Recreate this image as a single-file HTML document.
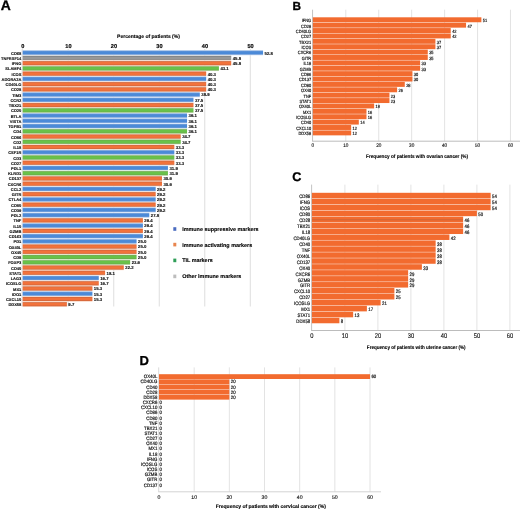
<!DOCTYPE html>
<html lang="en"><head><meta charset="utf-8"><title>Figure</title>
<style>html,body{margin:0;padding:0;background:#fff;}svg{display:block;}text{font-family:"Liberation Sans",sans-serif;}</style></head><body>
<svg width="520" height="510" viewBox="0 0 520 510" text-rendering="geometricPrecision">
<rect width="520" height="510" fill="#fff"/>
<defs>
<linearGradient id="gb" x1="0" y1="0" x2="0" y2="1"><stop offset="0" stop-color="#6f9bd6"/><stop offset="0.3" stop-color="#4c8ad8"/><stop offset="0.7" stop-color="#4c8ad8"/><stop offset="1" stop-color="#6f9bd6"/></linearGradient>
<linearGradient id="go" x1="0" y1="0" x2="0" y2="1"><stop offset="0" stop-color="#c8623a"/><stop offset="0.3" stop-color="#f2723a"/><stop offset="0.7" stop-color="#f2723a"/><stop offset="1" stop-color="#c8623a"/></linearGradient>
<linearGradient id="gg" x1="0" y1="0" x2="0" y2="1"><stop offset="0" stop-color="#6ea24c"/><stop offset="0.3" stop-color="#68c24a"/><stop offset="0.7" stop-color="#68c24a"/><stop offset="1" stop-color="#6ea24c"/></linearGradient>
<linearGradient id="gy" x1="0" y1="0" x2="0" y2="1"><stop offset="0" stop-color="#74787c"/><stop offset="0.3" stop-color="#989898"/><stop offset="0.7" stop-color="#989898"/><stop offset="1" stop-color="#8a8480"/></linearGradient>
<filter id="bl" x="-2%" y="-2%" width="104%" height="104%"><feGaussianBlur stdDeviation="0.45"/></filter>
</defs>
<g id="chartA">
<text x="0.80" y="9.83" font-size="13.9" font-weight="bold" text-anchor="start" fill="#000" stroke="#000" stroke-width="0.3">A</text>
<text x="148.50" y="37.79" font-size="5.0" font-weight="bold" text-anchor="middle" fill="#000" stroke="#111" stroke-width="0.12">Percentage of patients (%)</text>
<text x="22.90" y="47.50" font-size="5.6" font-weight="bold" text-anchor="middle" fill="#000" stroke="#111" stroke-width="0.18">0</text>
<line x1="68.22" y1="49" x2="68.22" y2="306.5" stroke="#d6d6d6" stroke-width="0.8"/>
<text x="68.42" y="47.50" font-size="5.6" font-weight="bold" text-anchor="middle" fill="#000" stroke="#111" stroke-width="0.18">10</text>
<line x1="113.74" y1="49" x2="113.74" y2="306.5" stroke="#d6d6d6" stroke-width="0.8"/>
<text x="113.94" y="47.50" font-size="5.6" font-weight="bold" text-anchor="middle" fill="#000" stroke="#111" stroke-width="0.18">20</text>
<line x1="159.26" y1="49" x2="159.26" y2="306.5" stroke="#d6d6d6" stroke-width="0.8"/>
<text x="159.46" y="47.50" font-size="5.6" font-weight="bold" text-anchor="middle" fill="#000" stroke="#111" stroke-width="0.18">30</text>
<line x1="204.78" y1="49" x2="204.78" y2="306.5" stroke="#d6d6d6" stroke-width="0.8"/>
<text x="204.98" y="47.50" font-size="5.6" font-weight="bold" text-anchor="middle" fill="#000" stroke="#111" stroke-width="0.18">40</text>
<line x1="250.30" y1="49" x2="250.30" y2="306.5" stroke="#d6d6d6" stroke-width="0.8"/>
<text x="250.50" y="47.50" font-size="5.6" font-weight="bold" text-anchor="middle" fill="#000" stroke="#111" stroke-width="0.18">50</text>
<line x1="22.20" y1="49" x2="22.20" y2="306.5" stroke="#cfcfcf" stroke-width="0.8"/>
<g filter="url(#bl)">
<rect x="22.70" y="50.08" width="240.35" height="5.24" fill="#cfdff5"/>
<rect x="22.70" y="55.32" width="208.48" height="5.24" fill="#d6d6d6"/>
<rect x="22.70" y="60.56" width="208.48" height="5.24" fill="#f7cdb8"/>
<rect x="22.70" y="65.80" width="196.19" height="5.24" fill="#cde8bf"/>
<rect x="22.70" y="71.04" width="183.45" height="5.24" fill="#f7cdb8"/>
<rect x="22.70" y="76.28" width="183.45" height="5.24" fill="#cfdff5"/>
<rect x="22.70" y="81.52" width="183.45" height="5.24" fill="#f7cdb8"/>
<rect x="22.70" y="86.76" width="183.45" height="5.24" fill="#f7cdb8"/>
<rect x="22.70" y="92.00" width="177.07" height="5.24" fill="#cfdff5"/>
<rect x="22.70" y="97.24" width="170.70" height="5.24" fill="#cfdff5"/>
<rect x="22.70" y="102.48" width="170.70" height="5.24" fill="#f7cdb8"/>
<rect x="22.70" y="107.72" width="170.70" height="5.24" fill="#cde8bf"/>
<rect x="22.70" y="112.96" width="164.33" height="5.24" fill="#cfdff5"/>
<rect x="22.70" y="118.20" width="164.33" height="5.24" fill="#cfdff5"/>
<rect x="22.70" y="123.44" width="164.33" height="5.24" fill="#cfdff5"/>
<rect x="22.70" y="128.68" width="164.33" height="5.24" fill="#cde8bf"/>
<rect x="22.70" y="133.92" width="157.95" height="5.24" fill="#f7cdb8"/>
<rect x="22.70" y="139.16" width="157.95" height="5.24" fill="#cde8bf"/>
<rect x="22.70" y="144.40" width="151.58" height="5.24" fill="#f7cdb8"/>
<rect x="22.70" y="149.64" width="151.58" height="5.24" fill="#cfdff5"/>
<rect x="22.70" y="154.88" width="151.58" height="5.24" fill="#cde8bf"/>
<rect x="22.70" y="160.12" width="151.58" height="5.24" fill="#f7cdb8"/>
<rect x="22.70" y="165.36" width="145.21" height="5.24" fill="#cfdff5"/>
<rect x="22.70" y="170.60" width="145.21" height="5.24" fill="#cde8bf"/>
<rect x="22.70" y="175.84" width="139.29" height="5.24" fill="#f7cdb8"/>
<rect x="22.70" y="181.08" width="139.29" height="5.24" fill="#f7cdb8"/>
<rect x="22.70" y="186.32" width="132.92" height="5.24" fill="#cfdff5"/>
<rect x="22.70" y="191.56" width="132.92" height="5.24" fill="#f7cdb8"/>
<rect x="22.70" y="196.80" width="132.92" height="5.24" fill="#cfdff5"/>
<rect x="22.70" y="202.04" width="132.92" height="5.24" fill="#f7cdb8"/>
<rect x="22.70" y="207.28" width="132.92" height="5.24" fill="#cfdff5"/>
<rect x="22.70" y="212.52" width="126.55" height="5.24" fill="#cfdff5"/>
<rect x="22.70" y="217.76" width="120.17" height="5.24" fill="#f7cdb8"/>
<rect x="22.70" y="223.00" width="120.17" height="5.24" fill="#cfdff5"/>
<rect x="22.70" y="228.24" width="120.17" height="5.24" fill="#f7cdb8"/>
<rect x="22.70" y="233.48" width="120.17" height="5.24" fill="#cfdff5"/>
<rect x="22.70" y="238.72" width="113.80" height="5.24" fill="#cfdff5"/>
<rect x="22.70" y="243.96" width="113.80" height="5.24" fill="#f7cdb8"/>
<rect x="22.70" y="249.20" width="113.80" height="5.24" fill="#f7cdb8"/>
<rect x="22.70" y="254.44" width="113.80" height="5.24" fill="#cde8bf"/>
<rect x="22.70" y="259.68" width="107.43" height="5.24" fill="#cde8bf"/>
<rect x="22.70" y="264.92" width="101.05" height="5.24" fill="#f7cdb8"/>
<rect x="22.70" y="270.16" width="82.39" height="5.24" fill="#f7cdb8"/>
<rect x="22.70" y="275.40" width="76.02" height="5.24" fill="#cfdff5"/>
<rect x="22.70" y="280.64" width="76.02" height="5.24" fill="#f7cdb8"/>
<rect x="22.70" y="285.88" width="69.65" height="5.24" fill="#f7cdb8"/>
<rect x="22.70" y="291.12" width="69.65" height="5.24" fill="#cfdff5"/>
<rect x="22.70" y="296.36" width="69.65" height="5.24" fill="#f7cdb8"/>
<rect x="22.70" y="301.60" width="44.15" height="5.24" fill="#f7cdb8"/>
<rect x="22.70" y="50.70" width="240.35" height="4.0" fill="url(#gb)"/>
<rect x="22.70" y="55.94" width="208.48" height="4.0" fill="url(#gy)"/>
<rect x="22.70" y="61.18" width="208.48" height="4.0" fill="url(#go)"/>
<rect x="22.70" y="66.42" width="196.19" height="4.0" fill="url(#gg)"/>
<rect x="22.70" y="71.66" width="183.45" height="4.0" fill="url(#go)"/>
<rect x="22.70" y="76.90" width="183.45" height="4.0" fill="url(#gb)"/>
<rect x="22.70" y="82.14" width="183.45" height="4.0" fill="url(#go)"/>
<rect x="22.70" y="87.38" width="183.45" height="4.0" fill="url(#go)"/>
<rect x="22.70" y="92.62" width="177.07" height="4.0" fill="url(#gb)"/>
<rect x="22.70" y="97.86" width="170.70" height="4.0" fill="url(#gb)"/>
<rect x="22.70" y="103.10" width="170.70" height="4.0" fill="url(#go)"/>
<rect x="22.70" y="108.34" width="170.70" height="4.0" fill="url(#gg)"/>
<rect x="22.70" y="113.58" width="164.33" height="4.0" fill="url(#gb)"/>
<rect x="22.70" y="118.82" width="164.33" height="4.0" fill="url(#gb)"/>
<rect x="22.70" y="124.06" width="164.33" height="4.0" fill="url(#gb)"/>
<rect x="22.70" y="129.30" width="164.33" height="4.0" fill="url(#gg)"/>
<rect x="22.70" y="134.54" width="157.95" height="4.0" fill="url(#go)"/>
<rect x="22.70" y="139.78" width="157.95" height="4.0" fill="url(#gg)"/>
<rect x="22.70" y="145.02" width="151.58" height="4.0" fill="url(#go)"/>
<rect x="22.70" y="150.26" width="151.58" height="4.0" fill="url(#gb)"/>
<rect x="22.70" y="155.50" width="151.58" height="4.0" fill="url(#gg)"/>
<rect x="22.70" y="160.74" width="151.58" height="4.0" fill="url(#go)"/>
<rect x="22.70" y="165.98" width="145.21" height="4.0" fill="url(#gb)"/>
<rect x="22.70" y="171.22" width="145.21" height="4.0" fill="url(#gg)"/>
<rect x="22.70" y="176.46" width="139.29" height="4.0" fill="url(#go)"/>
<rect x="22.70" y="181.70" width="139.29" height="4.0" fill="url(#go)"/>
<rect x="22.70" y="186.94" width="132.92" height="4.0" fill="url(#gb)"/>
<rect x="22.70" y="192.18" width="132.92" height="4.0" fill="url(#go)"/>
<rect x="22.70" y="197.42" width="132.92" height="4.0" fill="url(#gb)"/>
<rect x="22.70" y="202.66" width="132.92" height="4.0" fill="url(#go)"/>
<rect x="22.70" y="207.90" width="132.92" height="4.0" fill="url(#gb)"/>
<rect x="22.70" y="213.14" width="126.55" height="4.0" fill="url(#gb)"/>
<rect x="22.70" y="218.38" width="120.17" height="4.0" fill="url(#go)"/>
<rect x="22.70" y="223.62" width="120.17" height="4.0" fill="url(#gb)"/>
<rect x="22.70" y="228.86" width="120.17" height="4.0" fill="url(#go)"/>
<rect x="22.70" y="234.10" width="120.17" height="4.0" fill="url(#gb)"/>
<rect x="22.70" y="239.34" width="113.80" height="4.0" fill="url(#gb)"/>
<rect x="22.70" y="244.58" width="113.80" height="4.0" fill="url(#go)"/>
<rect x="22.70" y="249.82" width="113.80" height="4.0" fill="url(#go)"/>
<rect x="22.70" y="255.06" width="113.80" height="4.0" fill="url(#gg)"/>
<rect x="22.70" y="260.30" width="107.43" height="4.0" fill="url(#gg)"/>
<rect x="22.70" y="265.54" width="101.05" height="4.0" fill="url(#go)"/>
<rect x="22.70" y="270.78" width="82.39" height="4.0" fill="url(#go)"/>
<rect x="22.70" y="276.02" width="76.02" height="4.0" fill="url(#gb)"/>
<rect x="22.70" y="281.26" width="76.02" height="4.0" fill="url(#go)"/>
<rect x="22.70" y="286.50" width="69.65" height="4.0" fill="url(#go)"/>
<rect x="22.70" y="291.74" width="69.65" height="4.0" fill="url(#gb)"/>
<rect x="22.70" y="296.98" width="69.65" height="4.0" fill="url(#go)"/>
<rect x="22.70" y="302.22" width="44.15" height="4.0" fill="url(#go)"/>
</g>
<text x="21.30" y="54.73" font-size="4.0" font-weight="bold" text-anchor="end" fill="#111" stroke="#111" stroke-width="0.12">CD68</text>
<text x="264.55" y="54.54" font-size="4.3" font-weight="bold" text-anchor="start" fill="#111" stroke="#111" stroke-width="0.12">52.8</text>
<text x="21.30" y="59.97" font-size="4.0" font-weight="bold" text-anchor="end" fill="#111" stroke="#111" stroke-width="0.12">TNFRSF14</text>
<text x="232.68" y="59.78" font-size="4.3" font-weight="bold" text-anchor="start" fill="#111" stroke="#111" stroke-width="0.12">45.8</text>
<text x="21.30" y="65.21" font-size="4.0" font-weight="bold" text-anchor="end" fill="#111" stroke="#111" stroke-width="0.12">IFNG</text>
<text x="232.68" y="65.02" font-size="4.3" font-weight="bold" text-anchor="start" fill="#111" stroke="#111" stroke-width="0.12">45.8</text>
<text x="21.30" y="70.45" font-size="4.0" font-weight="bold" text-anchor="end" fill="#111" stroke="#111" stroke-width="0.12">SLAMF4</text>
<text x="220.39" y="70.26" font-size="4.3" font-weight="bold" text-anchor="start" fill="#111" stroke="#111" stroke-width="0.12">43.1</text>
<text x="21.30" y="75.69" font-size="4.0" font-weight="bold" text-anchor="end" fill="#111" stroke="#111" stroke-width="0.12">ICOS</text>
<text x="207.65" y="75.50" font-size="4.3" font-weight="bold" text-anchor="start" fill="#111" stroke="#111" stroke-width="0.12">40.3</text>
<text x="21.30" y="80.93" font-size="4.0" font-weight="bold" text-anchor="end" fill="#111" stroke="#111" stroke-width="0.12">ADORA2A</text>
<text x="207.65" y="80.74" font-size="4.3" font-weight="bold" text-anchor="start" fill="#111" stroke="#111" stroke-width="0.12">40.3</text>
<text x="21.30" y="86.17" font-size="4.0" font-weight="bold" text-anchor="end" fill="#111" stroke="#111" stroke-width="0.12">CD40LG</text>
<text x="207.65" y="85.98" font-size="4.3" font-weight="bold" text-anchor="start" fill="#111" stroke="#111" stroke-width="0.12">40.3</text>
<text x="21.30" y="91.41" font-size="4.0" font-weight="bold" text-anchor="end" fill="#111" stroke="#111" stroke-width="0.12">CD28</text>
<text x="207.65" y="91.22" font-size="4.3" font-weight="bold" text-anchor="start" fill="#111" stroke="#111" stroke-width="0.12">40.3</text>
<text x="21.30" y="96.65" font-size="4.0" font-weight="bold" text-anchor="end" fill="#111" stroke="#111" stroke-width="0.12">TIM3</text>
<text x="201.27" y="96.46" font-size="4.3" font-weight="bold" text-anchor="start" fill="#111" stroke="#111" stroke-width="0.12">38.9</text>
<text x="21.30" y="101.89" font-size="4.0" font-weight="bold" text-anchor="end" fill="#111" stroke="#111" stroke-width="0.12">CCR2</text>
<text x="194.90" y="101.70" font-size="4.3" font-weight="bold" text-anchor="start" fill="#111" stroke="#111" stroke-width="0.12">37.5</text>
<text x="21.30" y="107.13" font-size="4.0" font-weight="bold" text-anchor="end" fill="#111" stroke="#111" stroke-width="0.12">TBX21</text>
<text x="194.90" y="106.94" font-size="4.3" font-weight="bold" text-anchor="start" fill="#111" stroke="#111" stroke-width="0.12">37.5</text>
<text x="21.30" y="112.37" font-size="4.0" font-weight="bold" text-anchor="end" fill="#111" stroke="#111" stroke-width="0.12">CD20</text>
<text x="194.90" y="112.18" font-size="4.3" font-weight="bold" text-anchor="start" fill="#111" stroke="#111" stroke-width="0.12">37.5</text>
<text x="21.30" y="117.61" font-size="4.0" font-weight="bold" text-anchor="end" fill="#111" stroke="#111" stroke-width="0.12">BTLA</text>
<text x="188.53" y="117.42" font-size="4.3" font-weight="bold" text-anchor="start" fill="#111" stroke="#111" stroke-width="0.12">36.1</text>
<text x="21.30" y="122.85" font-size="4.0" font-weight="bold" text-anchor="end" fill="#111" stroke="#111" stroke-width="0.12">VISTA</text>
<text x="188.53" y="122.66" font-size="4.3" font-weight="bold" text-anchor="start" fill="#111" stroke="#111" stroke-width="0.12">36.1</text>
<text x="21.30" y="128.09" font-size="4.0" font-weight="bold" text-anchor="end" fill="#111" stroke="#111" stroke-width="0.12">TGFB1</text>
<text x="188.53" y="127.90" font-size="4.3" font-weight="bold" text-anchor="start" fill="#111" stroke="#111" stroke-width="0.12">36.1</text>
<text x="21.30" y="133.33" font-size="4.0" font-weight="bold" text-anchor="end" fill="#111" stroke="#111" stroke-width="0.12">CD4</text>
<text x="188.53" y="133.14" font-size="4.3" font-weight="bold" text-anchor="start" fill="#111" stroke="#111" stroke-width="0.12">36.1</text>
<text x="21.30" y="138.57" font-size="4.0" font-weight="bold" text-anchor="end" fill="#111" stroke="#111" stroke-width="0.12">CD86</text>
<text x="182.15" y="138.38" font-size="4.3" font-weight="bold" text-anchor="start" fill="#111" stroke="#111" stroke-width="0.12">34.7</text>
<text x="21.30" y="143.81" font-size="4.0" font-weight="bold" text-anchor="end" fill="#111" stroke="#111" stroke-width="0.12">CD2</text>
<text x="182.15" y="143.62" font-size="4.3" font-weight="bold" text-anchor="start" fill="#111" stroke="#111" stroke-width="0.12">34.7</text>
<text x="21.30" y="149.05" font-size="4.0" font-weight="bold" text-anchor="end" fill="#111" stroke="#111" stroke-width="0.12">IL18</text>
<text x="175.78" y="148.86" font-size="4.3" font-weight="bold" text-anchor="start" fill="#111" stroke="#111" stroke-width="0.12">33.3</text>
<text x="21.30" y="154.29" font-size="4.0" font-weight="bold" text-anchor="end" fill="#111" stroke="#111" stroke-width="0.12">CSF1R</text>
<text x="175.78" y="154.10" font-size="4.3" font-weight="bold" text-anchor="start" fill="#111" stroke="#111" stroke-width="0.12">33.3</text>
<text x="21.30" y="159.53" font-size="4.0" font-weight="bold" text-anchor="end" fill="#111" stroke="#111" stroke-width="0.12">CD3</text>
<text x="175.78" y="159.34" font-size="4.3" font-weight="bold" text-anchor="start" fill="#111" stroke="#111" stroke-width="0.12">33.3</text>
<text x="21.30" y="164.77" font-size="4.0" font-weight="bold" text-anchor="end" fill="#111" stroke="#111" stroke-width="0.12">CD27</text>
<text x="175.78" y="164.58" font-size="4.3" font-weight="bold" text-anchor="start" fill="#111" stroke="#111" stroke-width="0.12">33.3</text>
<text x="21.30" y="170.01" font-size="4.0" font-weight="bold" text-anchor="end" fill="#111" stroke="#111" stroke-width="0.12">PDL1</text>
<text x="169.41" y="169.82" font-size="4.3" font-weight="bold" text-anchor="start" fill="#111" stroke="#111" stroke-width="0.12">31.9</text>
<text x="21.30" y="175.25" font-size="4.0" font-weight="bold" text-anchor="end" fill="#111" stroke="#111" stroke-width="0.12">KLRD1</text>
<text x="169.41" y="175.06" font-size="4.3" font-weight="bold" text-anchor="start" fill="#111" stroke="#111" stroke-width="0.12">31.9</text>
<text x="21.30" y="180.49" font-size="4.0" font-weight="bold" text-anchor="end" fill="#111" stroke="#111" stroke-width="0.12">CD137</text>
<text x="163.49" y="180.30" font-size="4.3" font-weight="bold" text-anchor="start" fill="#111" stroke="#111" stroke-width="0.12">30.6</text>
<text x="21.30" y="185.73" font-size="4.0" font-weight="bold" text-anchor="end" fill="#111" stroke="#111" stroke-width="0.12">CXCR6</text>
<text x="163.49" y="185.54" font-size="4.3" font-weight="bold" text-anchor="start" fill="#111" stroke="#111" stroke-width="0.12">30.6</text>
<text x="21.30" y="190.97" font-size="4.0" font-weight="bold" text-anchor="end" fill="#111" stroke="#111" stroke-width="0.12">CCL2</text>
<text x="157.12" y="190.78" font-size="4.3" font-weight="bold" text-anchor="start" fill="#111" stroke="#111" stroke-width="0.12">29.2</text>
<text x="21.30" y="196.21" font-size="4.0" font-weight="bold" text-anchor="end" fill="#111" stroke="#111" stroke-width="0.12">GITR</text>
<text x="157.12" y="196.02" font-size="4.3" font-weight="bold" text-anchor="start" fill="#111" stroke="#111" stroke-width="0.12">29.2</text>
<text x="21.30" y="201.45" font-size="4.0" font-weight="bold" text-anchor="end" fill="#111" stroke="#111" stroke-width="0.12">CTLA4</text>
<text x="157.12" y="201.26" font-size="4.3" font-weight="bold" text-anchor="start" fill="#111" stroke="#111" stroke-width="0.12">29.2</text>
<text x="21.30" y="206.69" font-size="4.0" font-weight="bold" text-anchor="end" fill="#111" stroke="#111" stroke-width="0.12">CD80</text>
<text x="157.12" y="206.50" font-size="4.3" font-weight="bold" text-anchor="start" fill="#111" stroke="#111" stroke-width="0.12">29.2</text>
<text x="21.30" y="211.93" font-size="4.0" font-weight="bold" text-anchor="end" fill="#111" stroke="#111" stroke-width="0.12">CD39</text>
<text x="157.12" y="211.74" font-size="4.3" font-weight="bold" text-anchor="start" fill="#111" stroke="#111" stroke-width="0.12">29.2</text>
<text x="21.30" y="217.17" font-size="4.0" font-weight="bold" text-anchor="end" fill="#111" stroke="#111" stroke-width="0.12">PDL2</text>
<text x="150.75" y="216.98" font-size="4.3" font-weight="bold" text-anchor="start" fill="#111" stroke="#111" stroke-width="0.12">27.8</text>
<text x="21.30" y="222.41" font-size="4.0" font-weight="bold" text-anchor="end" fill="#111" stroke="#111" stroke-width="0.12">TNF</text>
<text x="144.37" y="222.22" font-size="4.3" font-weight="bold" text-anchor="start" fill="#111" stroke="#111" stroke-width="0.12">26.4</text>
<text x="21.30" y="227.65" font-size="4.0" font-weight="bold" text-anchor="end" fill="#111" stroke="#111" stroke-width="0.12">IL10</text>
<text x="144.37" y="227.46" font-size="4.3" font-weight="bold" text-anchor="start" fill="#111" stroke="#111" stroke-width="0.12">26.4</text>
<text x="21.30" y="232.89" font-size="4.0" font-weight="bold" text-anchor="end" fill="#111" stroke="#111" stroke-width="0.12">GZMB</text>
<text x="144.37" y="232.70" font-size="4.3" font-weight="bold" text-anchor="start" fill="#111" stroke="#111" stroke-width="0.12">26.4</text>
<text x="21.30" y="238.13" font-size="4.0" font-weight="bold" text-anchor="end" fill="#111" stroke="#111" stroke-width="0.12">CD163</text>
<text x="144.37" y="237.94" font-size="4.3" font-weight="bold" text-anchor="start" fill="#111" stroke="#111" stroke-width="0.12">26.4</text>
<text x="21.30" y="243.37" font-size="4.0" font-weight="bold" text-anchor="end" fill="#111" stroke="#111" stroke-width="0.12">PD1</text>
<text x="138.00" y="243.18" font-size="4.3" font-weight="bold" text-anchor="start" fill="#111" stroke="#111" stroke-width="0.12">25.0</text>
<text x="21.30" y="248.61" font-size="4.0" font-weight="bold" text-anchor="end" fill="#111" stroke="#111" stroke-width="0.12">OX40L</text>
<text x="138.00" y="248.42" font-size="4.3" font-weight="bold" text-anchor="start" fill="#111" stroke="#111" stroke-width="0.12">25.0</text>
<text x="21.30" y="253.85" font-size="4.0" font-weight="bold" text-anchor="end" fill="#111" stroke="#111" stroke-width="0.12">OX40</text>
<text x="138.00" y="253.66" font-size="4.3" font-weight="bold" text-anchor="start" fill="#111" stroke="#111" stroke-width="0.12">25.0</text>
<text x="21.30" y="259.09" font-size="4.0" font-weight="bold" text-anchor="end" fill="#111" stroke="#111" stroke-width="0.12">CD8</text>
<text x="138.00" y="258.90" font-size="4.3" font-weight="bold" text-anchor="start" fill="#111" stroke="#111" stroke-width="0.12">25.0</text>
<text x="21.30" y="264.33" font-size="4.0" font-weight="bold" text-anchor="end" fill="#111" stroke="#111" stroke-width="0.12">FOXP3</text>
<text x="131.63" y="264.14" font-size="4.3" font-weight="bold" text-anchor="start" fill="#111" stroke="#111" stroke-width="0.12">23.6</text>
<text x="21.30" y="269.57" font-size="4.0" font-weight="bold" text-anchor="end" fill="#111" stroke="#111" stroke-width="0.12">CD40</text>
<text x="125.25" y="269.38" font-size="4.3" font-weight="bold" text-anchor="start" fill="#111" stroke="#111" stroke-width="0.12">22.2</text>
<text x="21.30" y="274.81" font-size="4.0" font-weight="bold" text-anchor="end" fill="#111" stroke="#111" stroke-width="0.12">STAT1</text>
<text x="106.59" y="274.62" font-size="4.3" font-weight="bold" text-anchor="start" fill="#111" stroke="#111" stroke-width="0.12">18.1</text>
<text x="21.30" y="280.05" font-size="4.0" font-weight="bold" text-anchor="end" fill="#111" stroke="#111" stroke-width="0.12">LAG3</text>
<text x="100.22" y="279.86" font-size="4.3" font-weight="bold" text-anchor="start" fill="#111" stroke="#111" stroke-width="0.12">16.7</text>
<text x="21.30" y="285.29" font-size="4.0" font-weight="bold" text-anchor="end" fill="#111" stroke="#111" stroke-width="0.12">ICOSLG</text>
<text x="100.22" y="285.10" font-size="4.3" font-weight="bold" text-anchor="start" fill="#111" stroke="#111" stroke-width="0.12">16.7</text>
<text x="21.30" y="290.53" font-size="4.0" font-weight="bold" text-anchor="end" fill="#111" stroke="#111" stroke-width="0.12">MX1</text>
<text x="93.85" y="290.34" font-size="4.3" font-weight="bold" text-anchor="start" fill="#111" stroke="#111" stroke-width="0.12">15.3</text>
<text x="21.30" y="295.77" font-size="4.0" font-weight="bold" text-anchor="end" fill="#111" stroke="#111" stroke-width="0.12">IDO1</text>
<text x="93.85" y="295.58" font-size="4.3" font-weight="bold" text-anchor="start" fill="#111" stroke="#111" stroke-width="0.12">15.3</text>
<text x="21.30" y="301.01" font-size="4.0" font-weight="bold" text-anchor="end" fill="#111" stroke="#111" stroke-width="0.12">CXCL10</text>
<text x="93.85" y="300.82" font-size="4.3" font-weight="bold" text-anchor="start" fill="#111" stroke="#111" stroke-width="0.12">15.3</text>
<text x="21.30" y="306.25" font-size="4.0" font-weight="bold" text-anchor="end" fill="#111" stroke="#111" stroke-width="0.12">DDX58</text>
<text x="68.35" y="306.06" font-size="4.3" font-weight="bold" text-anchor="start" fill="#111" stroke="#111" stroke-width="0.12">9.7</text>
<rect x="173.3" y="227.20" width="3" height="3.6" fill="#4a6cc0"/>
<text x="182.20" y="230.94" font-size="5.42" font-weight="bold" text-anchor="start" fill="#000" stroke="#111" stroke-width="0.12">Immune suppressive markers</text>
<rect x="173.3" y="242.80" width="3" height="3.6" fill="#e8854e"/>
<text x="182.20" y="246.54" font-size="5.42" font-weight="bold" text-anchor="start" fill="#000" stroke="#111" stroke-width="0.12">Immune activating markers</text>
<rect x="173.3" y="258.60" width="3" height="3.6" fill="#2f9e58"/>
<text x="182.20" y="262.34" font-size="5.42" font-weight="bold" text-anchor="start" fill="#000" stroke="#111" stroke-width="0.12">TIL markers</text>
<rect x="173.3" y="274.60" width="3" height="3.6" fill="#bdbdbd"/>
<text x="182.20" y="278.34" font-size="5.42" font-weight="bold" text-anchor="start" fill="#000" stroke="#111" stroke-width="0.12">Other immune markers</text>
</g>
<g id="chartB">
<text x="292.40" y="9.52" font-size="11.8" font-weight="bold" text-anchor="start" fill="#000" stroke="#000" stroke-width="0.3">B</text>
<text transform="translate(312.85,147.46) scale(0.9,1)" font-size="5.2" text-anchor="middle" fill="#111" stroke="#111" stroke-width="0.12">0</text>
<line x1="345.79" y1="9.7" x2="345.79" y2="141.2" stroke="#dcdcdc" stroke-width="0.8"/>
<text transform="translate(345.79,147.46) scale(0.9,1)" font-size="5.2" text-anchor="middle" fill="#111" stroke="#111" stroke-width="0.12">10</text>
<line x1="378.73" y1="9.7" x2="378.73" y2="141.2" stroke="#dcdcdc" stroke-width="0.8"/>
<text transform="translate(378.73,147.46) scale(0.9,1)" font-size="5.2" text-anchor="middle" fill="#111" stroke="#111" stroke-width="0.12">20</text>
<line x1="411.67" y1="9.7" x2="411.67" y2="141.2" stroke="#dcdcdc" stroke-width="0.8"/>
<text transform="translate(411.67,147.46) scale(0.9,1)" font-size="5.2" text-anchor="middle" fill="#111" stroke="#111" stroke-width="0.12">30</text>
<line x1="444.61" y1="9.7" x2="444.61" y2="141.2" stroke="#dcdcdc" stroke-width="0.8"/>
<text transform="translate(444.61,147.46) scale(0.9,1)" font-size="5.2" text-anchor="middle" fill="#111" stroke="#111" stroke-width="0.12">40</text>
<line x1="477.55" y1="9.7" x2="477.55" y2="141.2" stroke="#dcdcdc" stroke-width="0.8"/>
<text transform="translate(477.55,147.46) scale(0.9,1)" font-size="5.2" text-anchor="middle" fill="#111" stroke="#111" stroke-width="0.12">50</text>
<line x1="510.49" y1="9.7" x2="510.49" y2="141.2" stroke="#dcdcdc" stroke-width="0.8"/>
<text transform="translate(510.49,147.46) scale(0.9,1)" font-size="5.2" text-anchor="middle" fill="#111" stroke="#111" stroke-width="0.12">60</text>
<line x1="312.55" y1="9.7" x2="312.55" y2="141.2" stroke="#b4b4b4" stroke-width="0.8"/>
<line x1="312.15" y1="141.2" x2="520" y2="141.2" stroke="#b4b4b4" stroke-width="0.9"/>
<rect x="312.85" y="17.30" width="168.53" height="4.95" fill="#f26b2f"/>
<text transform="translate(311.15,22.16) scale(0.84,1)" font-size="4.7" text-anchor="end" fill="#111" stroke="#111" stroke-width="0.18">IFNG</text>
<text transform="translate(482.78,22.16) scale(0.84,1)" font-size="4.7" text-anchor="start" fill="#111" stroke="#111" stroke-width="0.18">51</text>
<rect x="312.85" y="22.69" width="153.21" height="4.95" fill="#f26b2f"/>
<text transform="translate(311.15,27.54) scale(0.84,1)" font-size="4.7" text-anchor="end" fill="#111" stroke="#111" stroke-width="0.18">CD28</text>
<text transform="translate(467.46,27.54) scale(0.84,1)" font-size="4.7" text-anchor="start" fill="#111" stroke="#111" stroke-width="0.18">47</text>
<rect x="312.85" y="28.07" width="137.89" height="4.95" fill="#f26b2f"/>
<text transform="translate(311.15,32.93) scale(0.84,1)" font-size="4.7" text-anchor="end" fill="#111" stroke="#111" stroke-width="0.18">CD40LG</text>
<text transform="translate(452.14,32.93) scale(0.84,1)" font-size="4.7" text-anchor="start" fill="#111" stroke="#111" stroke-width="0.18">42</text>
<rect x="312.85" y="33.46" width="137.89" height="4.95" fill="#f26b2f"/>
<text transform="translate(311.15,38.32) scale(0.84,1)" font-size="4.7" text-anchor="end" fill="#111" stroke="#111" stroke-width="0.18">CD27</text>
<text transform="translate(452.14,38.32) scale(0.84,1)" font-size="4.7" text-anchor="start" fill="#111" stroke="#111" stroke-width="0.18">42</text>
<rect x="312.85" y="38.84" width="122.57" height="4.95" fill="#f26b2f"/>
<text transform="translate(311.15,43.70) scale(0.84,1)" font-size="4.7" text-anchor="end" fill="#111" stroke="#111" stroke-width="0.18">TBX21</text>
<text transform="translate(436.82,43.70) scale(0.84,1)" font-size="4.7" text-anchor="start" fill="#111" stroke="#111" stroke-width="0.18">37</text>
<rect x="312.85" y="44.23" width="122.57" height="4.95" fill="#f26b2f"/>
<text transform="translate(311.15,49.09) scale(0.84,1)" font-size="4.7" text-anchor="end" fill="#111" stroke="#111" stroke-width="0.18">ICOS</text>
<text transform="translate(436.82,49.09) scale(0.84,1)" font-size="4.7" text-anchor="start" fill="#111" stroke="#111" stroke-width="0.18">37</text>
<rect x="312.85" y="49.62" width="114.91" height="4.95" fill="#f26b2f"/>
<text transform="translate(311.15,54.47) scale(0.84,1)" font-size="4.7" text-anchor="end" fill="#111" stroke="#111" stroke-width="0.18">CXCR6</text>
<text transform="translate(429.16,54.47) scale(0.84,1)" font-size="4.7" text-anchor="start" fill="#111" stroke="#111" stroke-width="0.18">35</text>
<rect x="312.85" y="55.00" width="114.91" height="4.95" fill="#f26b2f"/>
<text transform="translate(311.15,59.86) scale(0.84,1)" font-size="4.7" text-anchor="end" fill="#111" stroke="#111" stroke-width="0.18">GITR</text>
<text transform="translate(429.16,59.86) scale(0.84,1)" font-size="4.7" text-anchor="start" fill="#111" stroke="#111" stroke-width="0.18">35</text>
<rect x="312.85" y="60.39" width="107.25" height="4.95" fill="#f26b2f"/>
<text transform="translate(311.15,65.25) scale(0.84,1)" font-size="4.7" text-anchor="end" fill="#111" stroke="#111" stroke-width="0.18">IL18</text>
<text transform="translate(421.50,65.25) scale(0.84,1)" font-size="4.7" text-anchor="start" fill="#111" stroke="#111" stroke-width="0.18">33</text>
<rect x="312.85" y="65.77" width="107.25" height="4.95" fill="#f26b2f"/>
<text transform="translate(311.15,70.63) scale(0.84,1)" font-size="4.7" text-anchor="end" fill="#111" stroke="#111" stroke-width="0.18">GZMB</text>
<text transform="translate(421.50,70.63) scale(0.84,1)" font-size="4.7" text-anchor="start" fill="#111" stroke="#111" stroke-width="0.18">33</text>
<rect x="312.85" y="71.16" width="99.59" height="4.95" fill="#f26b2f"/>
<text transform="translate(311.15,76.02) scale(0.84,1)" font-size="4.7" text-anchor="end" fill="#111" stroke="#111" stroke-width="0.18">CD86</text>
<text transform="translate(413.84,76.02) scale(0.84,1)" font-size="4.7" text-anchor="start" fill="#111" stroke="#111" stroke-width="0.18">30</text>
<rect x="312.85" y="76.55" width="99.59" height="4.95" fill="#f26b2f"/>
<text transform="translate(311.15,81.40) scale(0.84,1)" font-size="4.7" text-anchor="end" fill="#111" stroke="#111" stroke-width="0.18">CD137</text>
<text transform="translate(413.84,81.40) scale(0.84,1)" font-size="4.7" text-anchor="start" fill="#111" stroke="#111" stroke-width="0.18">30</text>
<rect x="312.85" y="81.93" width="91.93" height="4.95" fill="#f26b2f"/>
<text transform="translate(311.15,86.79) scale(0.84,1)" font-size="4.7" text-anchor="end" fill="#111" stroke="#111" stroke-width="0.18">CD80</text>
<text transform="translate(406.18,86.79) scale(0.84,1)" font-size="4.7" text-anchor="start" fill="#111" stroke="#111" stroke-width="0.18">28</text>
<rect x="312.85" y="87.32" width="84.27" height="4.95" fill="#f26b2f"/>
<text transform="translate(311.15,92.18) scale(0.84,1)" font-size="4.7" text-anchor="end" fill="#111" stroke="#111" stroke-width="0.18">OX40</text>
<text transform="translate(398.52,92.18) scale(0.84,1)" font-size="4.7" text-anchor="start" fill="#111" stroke="#111" stroke-width="0.18">26</text>
<rect x="312.85" y="92.70" width="76.60" height="4.95" fill="#f26b2f"/>
<text transform="translate(311.15,97.56) scale(0.84,1)" font-size="4.7" text-anchor="end" fill="#111" stroke="#111" stroke-width="0.18">TNF</text>
<text transform="translate(390.85,97.56) scale(0.84,1)" font-size="4.7" text-anchor="start" fill="#111" stroke="#111" stroke-width="0.18">23</text>
<rect x="312.85" y="98.09" width="76.60" height="4.95" fill="#f26b2f"/>
<text transform="translate(311.15,102.95) scale(0.84,1)" font-size="4.7" text-anchor="end" fill="#111" stroke="#111" stroke-width="0.18">STAT1</text>
<text transform="translate(390.85,102.95) scale(0.84,1)" font-size="4.7" text-anchor="start" fill="#111" stroke="#111" stroke-width="0.18">23</text>
<rect x="312.85" y="103.48" width="61.28" height="4.95" fill="#f26b2f"/>
<text transform="translate(311.15,108.33) scale(0.84,1)" font-size="4.7" text-anchor="end" fill="#111" stroke="#111" stroke-width="0.18">OX40L</text>
<text transform="translate(375.53,108.33) scale(0.84,1)" font-size="4.7" text-anchor="start" fill="#111" stroke="#111" stroke-width="0.18">19</text>
<rect x="312.85" y="108.86" width="53.62" height="4.95" fill="#f26b2f"/>
<text transform="translate(311.15,113.72) scale(0.84,1)" font-size="4.7" text-anchor="end" fill="#111" stroke="#111" stroke-width="0.18">MX1</text>
<text transform="translate(367.87,113.72) scale(0.84,1)" font-size="4.7" text-anchor="start" fill="#111" stroke="#111" stroke-width="0.18">16</text>
<rect x="312.85" y="114.25" width="53.62" height="4.95" fill="#f26b2f"/>
<text transform="translate(311.15,119.11) scale(0.84,1)" font-size="4.7" text-anchor="end" fill="#111" stroke="#111" stroke-width="0.18">ICOSLG</text>
<text transform="translate(367.87,119.11) scale(0.84,1)" font-size="4.7" text-anchor="start" fill="#111" stroke="#111" stroke-width="0.18">16</text>
<rect x="312.85" y="119.63" width="45.96" height="4.95" fill="#f26b2f"/>
<text transform="translate(311.15,124.49) scale(0.84,1)" font-size="4.7" text-anchor="end" fill="#111" stroke="#111" stroke-width="0.18">CD40</text>
<text transform="translate(360.21,124.49) scale(0.84,1)" font-size="4.7" text-anchor="start" fill="#111" stroke="#111" stroke-width="0.18">14</text>
<rect x="312.85" y="125.02" width="38.30" height="4.95" fill="#f26b2f"/>
<text transform="translate(311.15,129.88) scale(0.84,1)" font-size="4.7" text-anchor="end" fill="#111" stroke="#111" stroke-width="0.18">CXCL10</text>
<text transform="translate(352.55,129.88) scale(0.84,1)" font-size="4.7" text-anchor="start" fill="#111" stroke="#111" stroke-width="0.18">12</text>
<rect x="312.85" y="130.41" width="38.30" height="4.95" fill="#f26b2f"/>
<text transform="translate(311.15,135.26) scale(0.84,1)" font-size="4.7" text-anchor="end" fill="#111" stroke="#111" stroke-width="0.18">DDX58</text>
<text transform="translate(352.55,135.26) scale(0.84,1)" font-size="4.7" text-anchor="start" fill="#111" stroke="#111" stroke-width="0.18">12</text>
<text transform="translate(417.00,157.76) scale(0.9,1)" font-size="5.2" font-weight="bold" text-anchor="middle" fill="#000" stroke="#111" stroke-width="0.12">Frequency of patients with ovarian cancer (%)</text>
</g>
<g id="chartC">
<text x="292.20" y="181.01" font-size="12.6" font-weight="bold" text-anchor="start" fill="#000" stroke="#000" stroke-width="0.3">C</text>
<text transform="translate(311.90,338.23) scale(0.85,1)" font-size="6.8" text-anchor="middle" fill="#111" stroke="#111" stroke-width="0.12">0</text>
<line x1="344.90" y1="184.6" x2="344.90" y2="330.5" stroke="#dcdcdc" stroke-width="0.8"/>
<text transform="translate(344.90,338.23) scale(0.85,1)" font-size="6.8" text-anchor="middle" fill="#111" stroke="#111" stroke-width="0.12">10</text>
<line x1="377.90" y1="184.6" x2="377.90" y2="330.5" stroke="#dcdcdc" stroke-width="0.8"/>
<text transform="translate(377.90,338.23) scale(0.85,1)" font-size="6.8" text-anchor="middle" fill="#111" stroke="#111" stroke-width="0.12">20</text>
<line x1="410.90" y1="184.6" x2="410.90" y2="330.5" stroke="#dcdcdc" stroke-width="0.8"/>
<text transform="translate(410.90,338.23) scale(0.85,1)" font-size="6.8" text-anchor="middle" fill="#111" stroke="#111" stroke-width="0.12">30</text>
<line x1="443.90" y1="184.6" x2="443.90" y2="330.5" stroke="#dcdcdc" stroke-width="0.8"/>
<text transform="translate(443.90,338.23) scale(0.85,1)" font-size="6.8" text-anchor="middle" fill="#111" stroke="#111" stroke-width="0.12">40</text>
<line x1="476.90" y1="184.6" x2="476.90" y2="330.5" stroke="#dcdcdc" stroke-width="0.8"/>
<text transform="translate(476.90,338.23) scale(0.85,1)" font-size="6.8" text-anchor="middle" fill="#111" stroke="#111" stroke-width="0.12">50</text>
<line x1="509.90" y1="184.6" x2="509.90" y2="330.5" stroke="#dcdcdc" stroke-width="0.8"/>
<text transform="translate(509.90,338.23) scale(0.85,1)" font-size="6.8" text-anchor="middle" fill="#111" stroke="#111" stroke-width="0.12">60</text>
<line x1="311.60" y1="184.6" x2="311.60" y2="330.5" stroke="#b4b4b4" stroke-width="0.8"/>
<line x1="311.20" y1="330.5" x2="520" y2="330.5" stroke="#b4b4b4" stroke-width="0.9"/>
<rect x="311.90" y="192.80" width="178.75" height="5.52" fill="#f26b2f"/>
<text transform="translate(310.20,198.21) scale(0.88,1)" font-size="4.9" text-anchor="end" fill="#111" stroke="#111" stroke-width="0.18">CD86</text>
<text transform="translate(492.05,198.21) scale(0.88,1)" font-size="4.9" text-anchor="start" fill="#111" stroke="#111" stroke-width="0.18">54</text>
<rect x="311.90" y="198.75" width="178.75" height="5.52" fill="#f26b2f"/>
<text transform="translate(310.20,204.16) scale(0.88,1)" font-size="4.9" text-anchor="end" fill="#111" stroke="#111" stroke-width="0.18">IFNG</text>
<text transform="translate(492.05,204.16) scale(0.88,1)" font-size="4.9" text-anchor="start" fill="#111" stroke="#111" stroke-width="0.18">54</text>
<rect x="311.90" y="204.70" width="178.75" height="5.52" fill="#f26b2f"/>
<text transform="translate(310.20,210.11) scale(0.88,1)" font-size="4.9" text-anchor="end" fill="#111" stroke="#111" stroke-width="0.18">ICOS</text>
<text transform="translate(492.05,210.11) scale(0.88,1)" font-size="4.9" text-anchor="start" fill="#111" stroke="#111" stroke-width="0.18">54</text>
<rect x="311.90" y="210.65" width="165.00" height="5.52" fill="#f26b2f"/>
<text transform="translate(310.20,216.06) scale(0.88,1)" font-size="4.9" text-anchor="end" fill="#111" stroke="#111" stroke-width="0.18">CD80</text>
<text transform="translate(478.30,216.06) scale(0.88,1)" font-size="4.9" text-anchor="start" fill="#111" stroke="#111" stroke-width="0.18">50</text>
<rect x="311.90" y="216.60" width="151.25" height="5.52" fill="#f26b2f"/>
<text transform="translate(310.20,222.01) scale(0.88,1)" font-size="4.9" text-anchor="end" fill="#111" stroke="#111" stroke-width="0.18">CD28</text>
<text transform="translate(464.55,222.01) scale(0.88,1)" font-size="4.9" text-anchor="start" fill="#111" stroke="#111" stroke-width="0.18">46</text>
<rect x="311.90" y="222.55" width="151.25" height="5.52" fill="#f26b2f"/>
<text transform="translate(310.20,227.96) scale(0.88,1)" font-size="4.9" text-anchor="end" fill="#111" stroke="#111" stroke-width="0.18">TBX21</text>
<text transform="translate(464.55,227.96) scale(0.88,1)" font-size="4.9" text-anchor="start" fill="#111" stroke="#111" stroke-width="0.18">46</text>
<rect x="311.90" y="228.50" width="151.25" height="5.52" fill="#f26b2f"/>
<text transform="translate(310.20,233.91) scale(0.88,1)" font-size="4.9" text-anchor="end" fill="#111" stroke="#111" stroke-width="0.18">IL18</text>
<text transform="translate(464.55,233.91) scale(0.88,1)" font-size="4.9" text-anchor="start" fill="#111" stroke="#111" stroke-width="0.18">46</text>
<rect x="311.90" y="234.45" width="137.50" height="5.52" fill="#f26b2f"/>
<text transform="translate(310.20,239.86) scale(0.88,1)" font-size="4.9" text-anchor="end" fill="#111" stroke="#111" stroke-width="0.18">CD40LG</text>
<text transform="translate(450.80,239.86) scale(0.88,1)" font-size="4.9" text-anchor="start" fill="#111" stroke="#111" stroke-width="0.18">42</text>
<rect x="311.90" y="240.40" width="123.75" height="5.52" fill="#f26b2f"/>
<text transform="translate(310.20,245.81) scale(0.88,1)" font-size="4.9" text-anchor="end" fill="#111" stroke="#111" stroke-width="0.18">CD40</text>
<text transform="translate(437.05,245.81) scale(0.88,1)" font-size="4.9" text-anchor="start" fill="#111" stroke="#111" stroke-width="0.18">38</text>
<rect x="311.90" y="246.35" width="123.75" height="5.52" fill="#f26b2f"/>
<text transform="translate(310.20,251.76) scale(0.88,1)" font-size="4.9" text-anchor="end" fill="#111" stroke="#111" stroke-width="0.18">TNF</text>
<text transform="translate(437.05,251.76) scale(0.88,1)" font-size="4.9" text-anchor="start" fill="#111" stroke="#111" stroke-width="0.18">38</text>
<rect x="311.90" y="252.30" width="123.75" height="5.52" fill="#f26b2f"/>
<text transform="translate(310.20,257.71) scale(0.88,1)" font-size="4.9" text-anchor="end" fill="#111" stroke="#111" stroke-width="0.18">OX40L</text>
<text transform="translate(437.05,257.71) scale(0.88,1)" font-size="4.9" text-anchor="start" fill="#111" stroke="#111" stroke-width="0.18">38</text>
<rect x="311.90" y="258.25" width="123.75" height="5.52" fill="#f26b2f"/>
<text transform="translate(310.20,263.66) scale(0.88,1)" font-size="4.9" text-anchor="end" fill="#111" stroke="#111" stroke-width="0.18">CD137</text>
<text transform="translate(437.05,263.66) scale(0.88,1)" font-size="4.9" text-anchor="start" fill="#111" stroke="#111" stroke-width="0.18">38</text>
<rect x="311.90" y="264.20" width="110.00" height="5.52" fill="#f26b2f"/>
<text transform="translate(310.20,269.61) scale(0.88,1)" font-size="4.9" text-anchor="end" fill="#111" stroke="#111" stroke-width="0.18">OX40</text>
<text transform="translate(423.30,269.61) scale(0.88,1)" font-size="4.9" text-anchor="start" fill="#111" stroke="#111" stroke-width="0.18">33</text>
<rect x="311.90" y="270.15" width="96.25" height="5.52" fill="#f26b2f"/>
<text transform="translate(310.20,275.56) scale(0.88,1)" font-size="4.9" text-anchor="end" fill="#111" stroke="#111" stroke-width="0.18">CXCR6</text>
<text transform="translate(409.55,275.56) scale(0.88,1)" font-size="4.9" text-anchor="start" fill="#111" stroke="#111" stroke-width="0.18">29</text>
<rect x="311.90" y="276.10" width="96.25" height="5.52" fill="#f26b2f"/>
<text transform="translate(310.20,281.51) scale(0.88,1)" font-size="4.9" text-anchor="end" fill="#111" stroke="#111" stroke-width="0.18">GZMB</text>
<text transform="translate(409.55,281.51) scale(0.88,1)" font-size="4.9" text-anchor="start" fill="#111" stroke="#111" stroke-width="0.18">29</text>
<rect x="311.90" y="282.05" width="96.25" height="5.52" fill="#f26b2f"/>
<text transform="translate(310.20,287.46) scale(0.88,1)" font-size="4.9" text-anchor="end" fill="#111" stroke="#111" stroke-width="0.18">GITR</text>
<text transform="translate(409.55,287.46) scale(0.88,1)" font-size="4.9" text-anchor="start" fill="#111" stroke="#111" stroke-width="0.18">29</text>
<rect x="311.90" y="288.00" width="82.50" height="5.52" fill="#f26b2f"/>
<text transform="translate(310.20,293.41) scale(0.88,1)" font-size="4.9" text-anchor="end" fill="#111" stroke="#111" stroke-width="0.18">CXCL10</text>
<text transform="translate(395.80,293.41) scale(0.88,1)" font-size="4.9" text-anchor="start" fill="#111" stroke="#111" stroke-width="0.18">25</text>
<rect x="311.90" y="293.95" width="82.50" height="5.52" fill="#f26b2f"/>
<text transform="translate(310.20,299.36) scale(0.88,1)" font-size="4.9" text-anchor="end" fill="#111" stroke="#111" stroke-width="0.18">CD27</text>
<text transform="translate(395.80,299.36) scale(0.88,1)" font-size="4.9" text-anchor="start" fill="#111" stroke="#111" stroke-width="0.18">25</text>
<rect x="311.90" y="299.90" width="68.75" height="5.52" fill="#f26b2f"/>
<text transform="translate(310.20,305.31) scale(0.88,1)" font-size="4.9" text-anchor="end" fill="#111" stroke="#111" stroke-width="0.18">ICOSLG</text>
<text transform="translate(382.05,305.31) scale(0.88,1)" font-size="4.9" text-anchor="start" fill="#111" stroke="#111" stroke-width="0.18">21</text>
<rect x="311.90" y="305.85" width="55.00" height="5.52" fill="#f26b2f"/>
<text transform="translate(310.20,311.26) scale(0.88,1)" font-size="4.9" text-anchor="end" fill="#111" stroke="#111" stroke-width="0.18">MX1</text>
<text transform="translate(368.30,311.26) scale(0.88,1)" font-size="4.9" text-anchor="start" fill="#111" stroke="#111" stroke-width="0.18">17</text>
<rect x="311.90" y="311.80" width="41.25" height="5.52" fill="#f26b2f"/>
<text transform="translate(310.20,317.21) scale(0.88,1)" font-size="4.9" text-anchor="end" fill="#111" stroke="#111" stroke-width="0.18">STAT1</text>
<text transform="translate(354.55,317.21) scale(0.88,1)" font-size="4.9" text-anchor="start" fill="#111" stroke="#111" stroke-width="0.18">13</text>
<rect x="311.90" y="317.75" width="27.50" height="5.52" fill="#f26b2f"/>
<text transform="translate(310.20,323.16) scale(0.88,1)" font-size="4.9" text-anchor="end" fill="#111" stroke="#111" stroke-width="0.18">DDX58</text>
<text transform="translate(340.80,323.16) scale(0.88,1)" font-size="4.9" text-anchor="start" fill="#111" stroke="#111" stroke-width="0.18">8</text>
<text transform="translate(416.20,348.66) scale(0.88,1)" font-size="5.2" font-weight="bold" text-anchor="middle" fill="#000" stroke="#111" stroke-width="0.12">Frequency of patients with uterine cancer (%)</text>
</g>
<line x1="312" y1="219.8" x2="463" y2="219.8" stroke="#8a5a3c" stroke-opacity="0.55" stroke-width="0.6"/>
<g id="chartD">
<text x="139.60" y="365.25" font-size="13" font-weight="bold" text-anchor="start" fill="#000" stroke="#000" stroke-width="0.3">D</text>
<text x="159.00" y="498.96" font-size="5.2" text-anchor="middle" fill="#111" stroke="#111" stroke-width="0.12">0</text>
<line x1="194.17" y1="367.4" x2="194.17" y2="491.8" stroke="#dcdcdc" stroke-width="0.8"/>
<text x="194.17" y="498.96" font-size="5.2" text-anchor="middle" fill="#111" stroke="#111" stroke-width="0.12">10</text>
<line x1="229.34" y1="367.4" x2="229.34" y2="491.8" stroke="#dcdcdc" stroke-width="0.8"/>
<text x="229.34" y="498.96" font-size="5.2" text-anchor="middle" fill="#111" stroke="#111" stroke-width="0.12">20</text>
<line x1="264.51" y1="367.4" x2="264.51" y2="491.8" stroke="#dcdcdc" stroke-width="0.8"/>
<text x="264.51" y="498.96" font-size="5.2" text-anchor="middle" fill="#111" stroke="#111" stroke-width="0.12">30</text>
<line x1="299.68" y1="367.4" x2="299.68" y2="491.8" stroke="#dcdcdc" stroke-width="0.8"/>
<text x="299.68" y="498.96" font-size="5.2" text-anchor="middle" fill="#111" stroke="#111" stroke-width="0.12">40</text>
<line x1="334.85" y1="367.4" x2="334.85" y2="491.8" stroke="#dcdcdc" stroke-width="0.8"/>
<text x="334.85" y="498.96" font-size="5.2" text-anchor="middle" fill="#111" stroke="#111" stroke-width="0.12">50</text>
<line x1="370.02" y1="367.4" x2="370.02" y2="491.8" stroke="#dcdcdc" stroke-width="0.8"/>
<text x="370.02" y="498.96" font-size="5.2" text-anchor="middle" fill="#111" stroke="#111" stroke-width="0.12">60</text>
<line x1="158.70" y1="367.4" x2="158.70" y2="491.8" stroke="#cfcfcf" stroke-width="0.8"/>
<line x1="158.30" y1="491.8" x2="381" y2="491.8" stroke="#cfcfcf" stroke-width="0.9"/>
<rect x="159.00" y="374.20" width="211.02" height="4.8" fill="#f26b2f"/>
<text transform="translate(157.30,378.32) scale(0.9,1)" font-size="4.8" text-anchor="end" fill="#111" stroke="#111" stroke-width="0.18">OX40L</text>
<text transform="translate(371.42,378.32) scale(0.9,1)" font-size="4.8" text-anchor="start" fill="#111" stroke="#111" stroke-width="0.18">60</text>
<rect x="159.00" y="379.35" width="70.34" height="4.8" fill="#f26b2f"/>
<text transform="translate(157.30,383.47) scale(0.9,1)" font-size="4.8" text-anchor="end" fill="#111" stroke="#111" stroke-width="0.18">CD40LG</text>
<text transform="translate(230.74,383.47) scale(0.9,1)" font-size="4.8" text-anchor="start" fill="#111" stroke="#111" stroke-width="0.18">20</text>
<rect x="159.00" y="384.51" width="70.34" height="4.8" fill="#f26b2f"/>
<text transform="translate(157.30,388.63) scale(0.9,1)" font-size="4.8" text-anchor="end" fill="#111" stroke="#111" stroke-width="0.18">CD40</text>
<text transform="translate(230.74,388.63) scale(0.9,1)" font-size="4.8" text-anchor="start" fill="#111" stroke="#111" stroke-width="0.18">20</text>
<rect x="159.00" y="389.66" width="70.34" height="4.8" fill="#f26b2f"/>
<text transform="translate(157.30,393.78) scale(0.9,1)" font-size="4.8" text-anchor="end" fill="#111" stroke="#111" stroke-width="0.18">CD28</text>
<text transform="translate(230.74,393.78) scale(0.9,1)" font-size="4.8" text-anchor="start" fill="#111" stroke="#111" stroke-width="0.18">20</text>
<rect x="159.00" y="394.82" width="70.34" height="4.8" fill="#f26b2f"/>
<text transform="translate(157.30,398.94) scale(0.9,1)" font-size="4.8" text-anchor="end" fill="#111" stroke="#111" stroke-width="0.18">DDX58</text>
<text transform="translate(230.74,398.94) scale(0.9,1)" font-size="4.8" text-anchor="start" fill="#111" stroke="#111" stroke-width="0.18">20</text>
<text transform="translate(157.30,404.09) scale(0.9,1)" font-size="4.8" text-anchor="end" fill="#111" stroke="#111" stroke-width="0.18">CXCR6</text>
<text transform="translate(159.40,404.09) scale(0.9,1)" font-size="4.8" text-anchor="start" fill="#111" stroke="#111" stroke-width="0.18">0</text>
<text transform="translate(157.30,409.25) scale(0.9,1)" font-size="4.8" text-anchor="end" fill="#111" stroke="#111" stroke-width="0.18">CXCL10</text>
<text transform="translate(159.40,409.25) scale(0.9,1)" font-size="4.8" text-anchor="start" fill="#111" stroke="#111" stroke-width="0.18">0</text>
<text transform="translate(157.30,414.40) scale(0.9,1)" font-size="4.8" text-anchor="end" fill="#111" stroke="#111" stroke-width="0.18">CD86</text>
<text transform="translate(159.40,414.40) scale(0.9,1)" font-size="4.8" text-anchor="start" fill="#111" stroke="#111" stroke-width="0.18">0</text>
<text transform="translate(157.30,419.56) scale(0.9,1)" font-size="4.8" text-anchor="end" fill="#111" stroke="#111" stroke-width="0.18">CD80</text>
<text transform="translate(159.40,419.56) scale(0.9,1)" font-size="4.8" text-anchor="start" fill="#111" stroke="#111" stroke-width="0.18">0</text>
<text transform="translate(157.30,424.71) scale(0.9,1)" font-size="4.8" text-anchor="end" fill="#111" stroke="#111" stroke-width="0.18">TNF</text>
<text transform="translate(159.40,424.71) scale(0.9,1)" font-size="4.8" text-anchor="start" fill="#111" stroke="#111" stroke-width="0.18">0</text>
<text transform="translate(157.30,429.87) scale(0.9,1)" font-size="4.8" text-anchor="end" fill="#111" stroke="#111" stroke-width="0.18">TBX21</text>
<text transform="translate(159.40,429.87) scale(0.9,1)" font-size="4.8" text-anchor="start" fill="#111" stroke="#111" stroke-width="0.18">0</text>
<text transform="translate(157.30,435.02) scale(0.9,1)" font-size="4.8" text-anchor="end" fill="#111" stroke="#111" stroke-width="0.18">STAT1</text>
<text transform="translate(159.40,435.02) scale(0.9,1)" font-size="4.8" text-anchor="start" fill="#111" stroke="#111" stroke-width="0.18">0</text>
<text transform="translate(157.30,440.18) scale(0.9,1)" font-size="4.8" text-anchor="end" fill="#111" stroke="#111" stroke-width="0.18">CD27</text>
<text transform="translate(159.40,440.18) scale(0.9,1)" font-size="4.8" text-anchor="start" fill="#111" stroke="#111" stroke-width="0.18">0</text>
<text transform="translate(157.30,445.33) scale(0.9,1)" font-size="4.8" text-anchor="end" fill="#111" stroke="#111" stroke-width="0.18">OX40</text>
<text transform="translate(159.40,445.33) scale(0.9,1)" font-size="4.8" text-anchor="start" fill="#111" stroke="#111" stroke-width="0.18">0</text>
<text transform="translate(157.30,450.49) scale(0.9,1)" font-size="4.8" text-anchor="end" fill="#111" stroke="#111" stroke-width="0.18">MX1</text>
<text transform="translate(159.40,450.49) scale(0.9,1)" font-size="4.8" text-anchor="start" fill="#111" stroke="#111" stroke-width="0.18">0</text>
<text transform="translate(157.30,455.64) scale(0.9,1)" font-size="4.8" text-anchor="end" fill="#111" stroke="#111" stroke-width="0.18">IL18</text>
<text transform="translate(159.40,455.64) scale(0.9,1)" font-size="4.8" text-anchor="start" fill="#111" stroke="#111" stroke-width="0.18">0</text>
<text transform="translate(157.30,460.80) scale(0.9,1)" font-size="4.8" text-anchor="end" fill="#111" stroke="#111" stroke-width="0.18">IFNG</text>
<text transform="translate(159.40,460.80) scale(0.9,1)" font-size="4.8" text-anchor="start" fill="#111" stroke="#111" stroke-width="0.18">0</text>
<text transform="translate(157.30,465.95) scale(0.9,1)" font-size="4.8" text-anchor="end" fill="#111" stroke="#111" stroke-width="0.18">ICOSLG</text>
<text transform="translate(159.40,465.95) scale(0.9,1)" font-size="4.8" text-anchor="start" fill="#111" stroke="#111" stroke-width="0.18">0</text>
<text transform="translate(157.30,471.11) scale(0.9,1)" font-size="4.8" text-anchor="end" fill="#111" stroke="#111" stroke-width="0.18">ICOS</text>
<text transform="translate(159.40,471.11) scale(0.9,1)" font-size="4.8" text-anchor="start" fill="#111" stroke="#111" stroke-width="0.18">0</text>
<text transform="translate(157.30,476.26) scale(0.9,1)" font-size="4.8" text-anchor="end" fill="#111" stroke="#111" stroke-width="0.18">GZMB</text>
<text transform="translate(159.40,476.26) scale(0.9,1)" font-size="4.8" text-anchor="start" fill="#111" stroke="#111" stroke-width="0.18">0</text>
<text transform="translate(157.30,481.42) scale(0.9,1)" font-size="4.8" text-anchor="end" fill="#111" stroke="#111" stroke-width="0.18">GITR</text>
<text transform="translate(159.40,481.42) scale(0.9,1)" font-size="4.8" text-anchor="start" fill="#111" stroke="#111" stroke-width="0.18">0</text>
<text transform="translate(157.30,486.57) scale(0.9,1)" font-size="4.8" text-anchor="end" fill="#111" stroke="#111" stroke-width="0.18">CD137</text>
<text transform="translate(159.40,486.57) scale(0.9,1)" font-size="4.8" text-anchor="start" fill="#111" stroke="#111" stroke-width="0.18">0</text>
<text x="270.80" y="507.69" font-size="5.0" font-weight="bold" text-anchor="middle" fill="#000" stroke="#111" stroke-width="0.12">Frequency of patients with cervical cancer (%)</text>
</g>
</svg></body></html>
